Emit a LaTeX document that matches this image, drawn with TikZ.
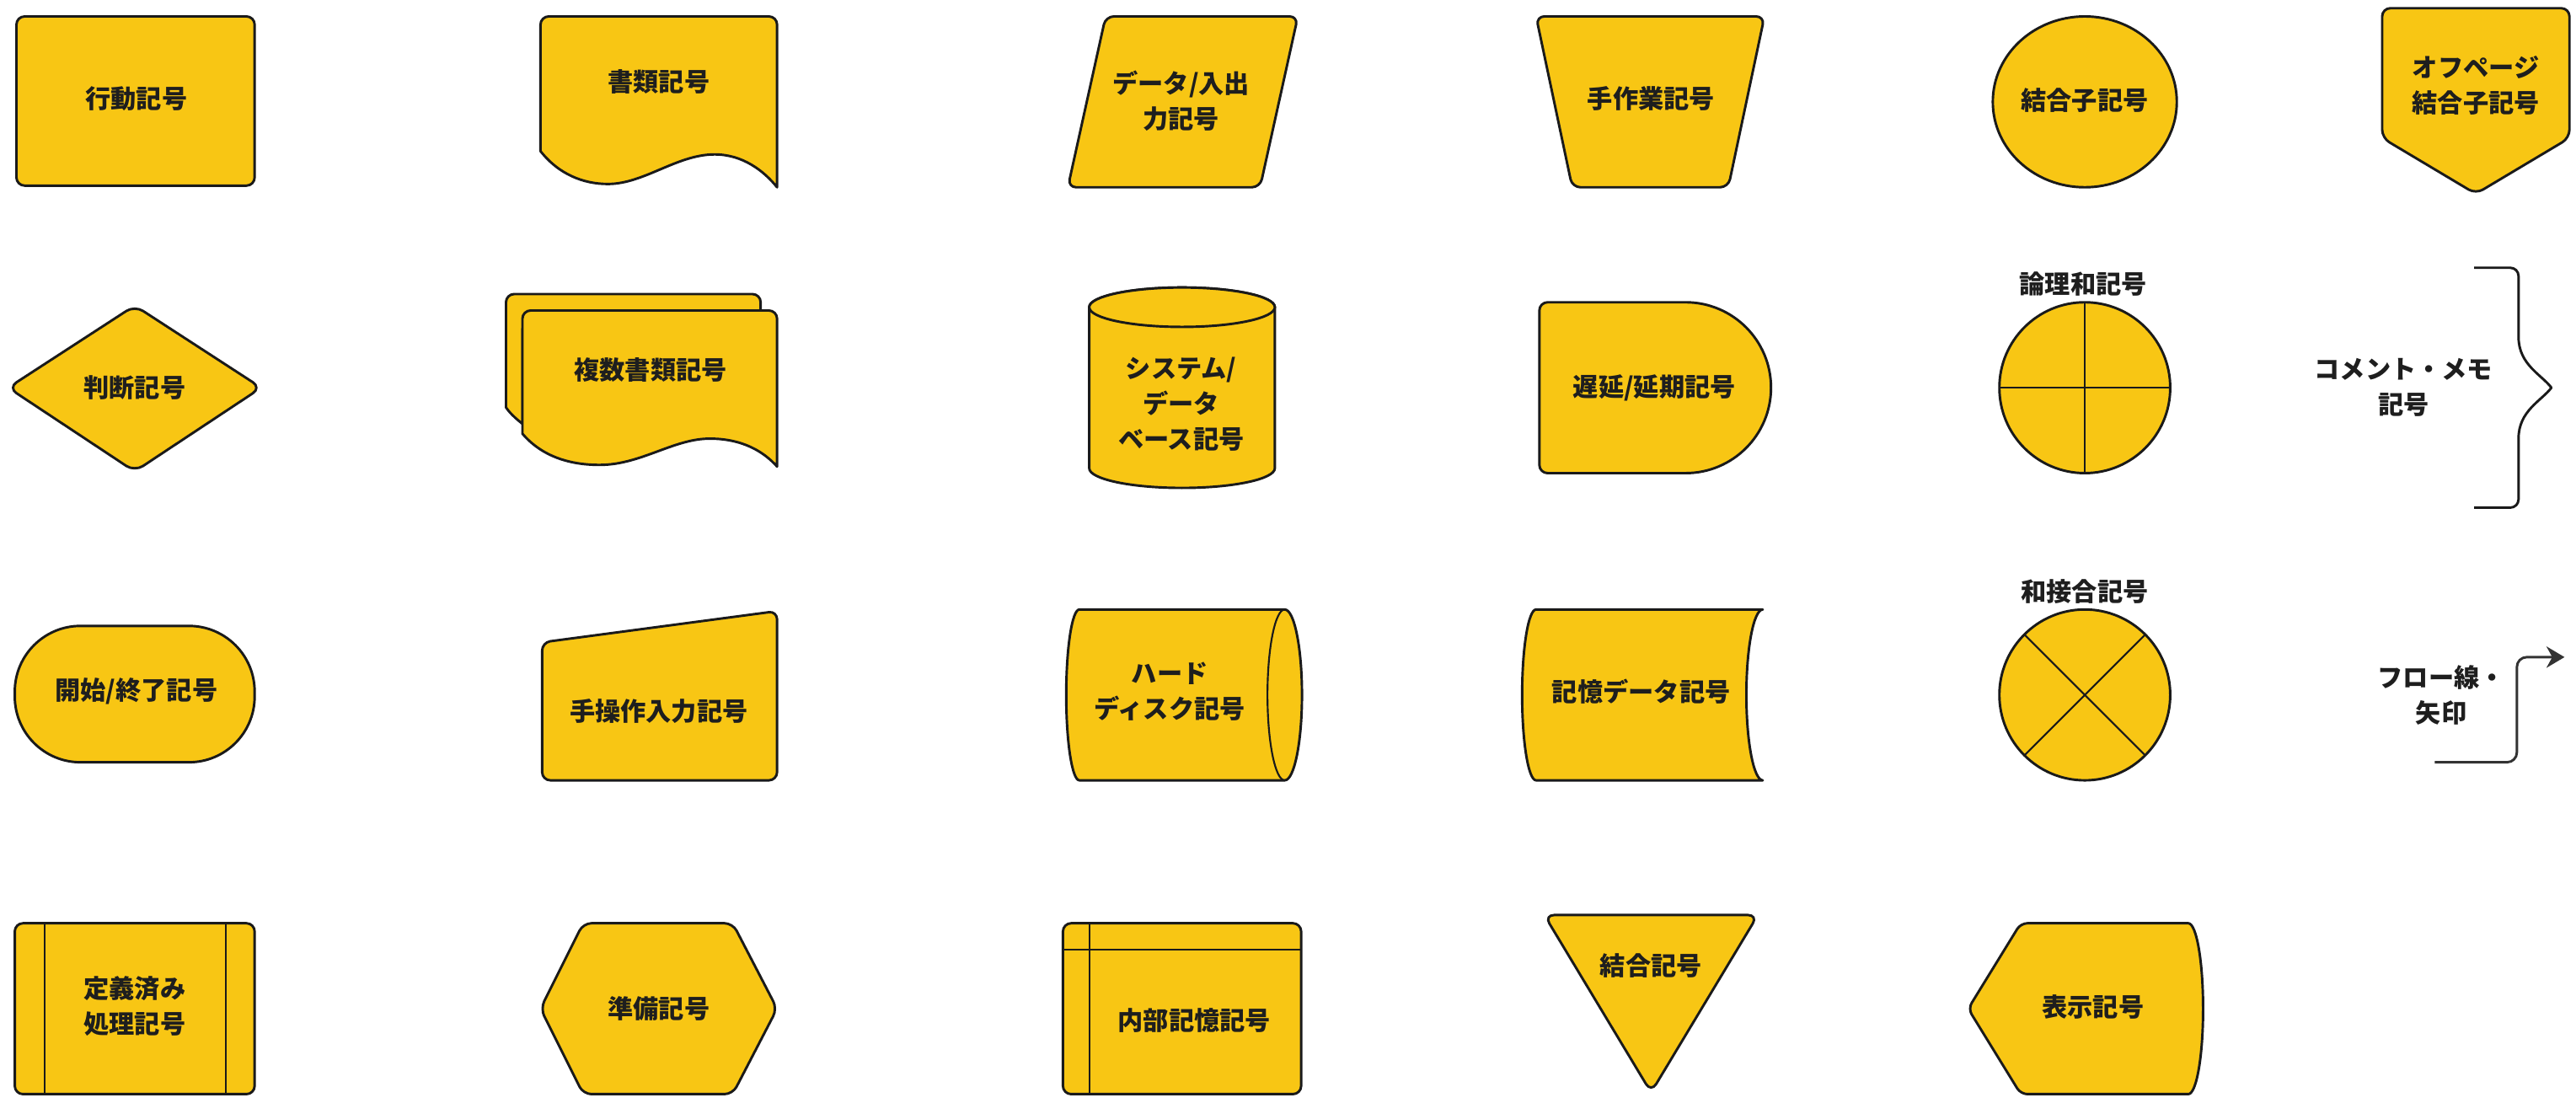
\documentclass[tikz,border=0pt]{standalone}
\usepackage{fontspec}
\IfFontExistsTF{Noto Sans CJK JP Black}
  {\newfontfamily\jpfont{Noto Sans CJK JP}[BoldFont={Noto Sans CJK JP Black}]}
  {\newfontfamily\jpfont{Noto Sans CJK JP}}
\usetikzlibrary{arrows.meta}
\definecolor{yfill}{HTML}{F8C614}
\definecolor{edge}{HTML}{1A1A1A}
\definecolor{txt}{HTML}{1E1E1E}
\definecolor{arrowc}{HTML}{333333}
\begin{document}
\begin{tikzpicture}[x=1pt,y=-1pt,
  shp/.style={fill=yfill, draw=edge, line width=1.5pt, line join=round},
  innerline/.style={draw=edge, line width=1.1pt},
  lbl/.style={font={\jpfont\bfseries\fontsize{15.5pt}{21.5pt}\selectfont}, text=txt, align=center, inner sep=0pt},
  plain/.style={draw=edge, line width=1.5pt, line join=round},
  flow/.style={draw=arrowc, line width=1.5pt, rounded corners=6pt, -{Stealth[length=11pt,width=13pt]}}]
\useasboundingbox (0,0) rectangle (1568,671);
\fill[white] (0,0) rectangle (1568,671);

% ---------- Row 1 ----------
\draw[shp, rounded corners=5pt] (10,10) rectangle (155,113);
\node[lbl] (t1) at (83,60) {行動記号};

\draw[shp] (329,92) -- (329,15) arc[start angle=180,end angle=270,radius=5] -- (468,10) arc[start angle=270,end angle=360,radius=5] -- (473,114) .. controls (465,104) and (452,94) .. (435,94) .. controls (412,94) and (392,112) .. (370,112) .. controls (355,112) and (340,106) .. (329,92) -- cycle;
\node[lbl] (t2) at (401,50) {書類記号};

\draw[shp, rounded corners=5pt] (673,10) -- (790,10) -- (767,114) -- (650,114) -- cycle;
\node[lbl] (t3) at (719,61.5) {データ/入出\\力記号};

\draw[shp, rounded corners=5pt] (935,10) -- (1074,10) -- (1052,114) -- (957,114) -- cycle;
\node[lbl] (t4) at (1005,60) {手作業記号};

\draw[shp] (1269,62) ellipse[x radius=56, y radius=52];
\node[lbl] (t5) at (1269,61) {結合子記号};

\draw[shp, rounded corners=5pt] (1450,5) -- (1564,5) -- (1564,84) -- (1507,118) -- (1450,84) -- cycle;
\node[lbl] (t6) at (1507,52) {オフページ\\結合子記号};

% ---------- Row 2 ----------
\draw[shp, rounded corners=6pt] (82,186) -- (159,236) -- (82,287) -- (5,236) -- cycle;
\node[lbl] (t7) at (82,236) {判断記号};

\draw[shp] (318,258) .. controls (313,254) and (310,251) .. (308,248) -- (308,184) arc[start angle=180,end angle=270,radius=5] -- (458,179) arc[start angle=270,end angle=360,radius=5] -- (463,200) -- (318,200) -- cycle;
\draw[shp] (318,264) -- (318,194) arc[start angle=180,end angle=270,radius=5] -- (468,189) arc[start angle=270,end angle=360,radius=5] -- (473,284) .. controls (465,275) and (452,267) .. (432,267) .. controls (410,267) and (390,283) .. (365,283) .. controls (347,283) and (330,278) .. (318,264) -- cycle;
\node[lbl] (t8) at (396,225) {複数書類記号};

\draw[shp] (663,187) -- (663,285) arc[start angle=180,end angle=0,x radius=56.5,y radius=12] -- (776,187) arc[start angle=0,end angle=-180,x radius=56.5,y radius=12] -- cycle;
\draw[shp] (719.5,187) ellipse[x radius=56.5, y radius=12];
\node[lbl] (t9) at (719,246) {システム/\\データ\\ベース記号};

\draw[shp] (942,184) -- (1026,184) arc[start angle=270,end angle=450,radius=52] -- (942,288) arc[start angle=90,end angle=180,radius=5] -- (937,283) -- (937,189) arc[start angle=180,end angle=270,radius=5] -- cycle;
\node[lbl] (t10) at (1007,236) {遅延/延期記号};

\node[lbl] (t11) at (1268,173) {論理和記号};
\draw[shp] (1269,236) circle[radius=52];
\draw[innerline] (1269,184) -- (1269,288);
\draw[innerline] (1217,236) -- (1321,236);

\draw[plain] (1506,163) -- (1528,163) arc[start angle=270,end angle=360,radius=5] -- (1533,205) .. controls (1533,222) and (1547,228) .. (1553,236) .. controls (1547,244) and (1533,250) .. (1533,267) -- (1533,304) arc[start angle=0,end angle=90,radius=5] -- (1506,309);
\node[lbl] (t12) at (1463,236) {コメント・メモ\\記号};

% ---------- Row 3 ----------
\draw[shp, rounded corners=40pt] (9,381) rectangle (155,464);
\node[lbl] (t13) at (83,421) {開始/終了記号};

\draw[shp, rounded corners=5pt] (330,391) -- (473,372) -- (473,475) -- (330,475) -- cycle;
\node[lbl] (t14) at (401,433) {手操作入力記号};

\draw[shp] (657,371) -- (782,371) arc[start angle=-90,end angle=90,x radius=10.5,y radius=52] -- (657,475) arc[start angle=90,end angle=270,x radius=8,y radius=52] -- cycle;
\draw[innerline] (782,371) arc[start angle=270,end angle=90,x radius=10.5,y radius=52];
\node[lbl] (t15) at (712,421) {ハード\\ディスク記号};

\draw[shp] (935,371) -- (1073,371) arc[start angle=-90,end angle=-270,x radius=10,y radius=52] -- (935,475) arc[start angle=90,end angle=270,x radius=8.5,y radius=52] -- cycle;
\node[lbl] (t16) at (999,421) {記憶データ記号};

\node[lbl] (t17) at (1269,360) {和接合記号};
\draw[shp] (1269,423) circle[radius=52];
\draw[innerline] (1232.2,386.2) -- (1305.8,459.8);
\draw[innerline] (1305.8,386.2) -- (1232.2,459.8);

\node[lbl] (t18) at (1486,423) {フロー線・\\矢印};
\coordinate (fa) at (1482,464);
\coordinate (fb) at (1561,400);
\draw[flow] (fa) -- ([xshift=50pt]fa) |- (fb);

% ---------- Row 4 ----------
\draw[shp, rounded corners=5pt] (9,562) rectangle (155,666);
\draw[innerline] (27,562) -- (27,666);
\draw[innerline] (137.5,562) -- (137.5,666);
\node[lbl] (t19) at (82,612.5) {定義済み\\処理記号};

\draw[shp, rounded corners=5pt] (355,562) -- (446,562) -- (473,614) -- (446,666) -- (355,666) -- (329,614) -- cycle;
\node[lbl] (t20) at (401,614) {準備記号};

\draw[shp, rounded corners=5pt] (647,562) rectangle (792,666);
\draw[innerline] (647,578) -- (792,578);
\draw[innerline] (663,562) -- (663,666);
\node[lbl] (t21) at (727,621) {内部記憶記号};

\draw[shp, rounded corners=6pt] (940,557) -- (1070,557) -- (1005,665) -- cycle;
\node[lbl] (t22) at (1005,588) {結合記号};

\draw[shp] (1332,562) arc[start angle=-90,end angle=90,x radius=9,y radius=52] {[rounded corners=4pt] -- (1230,666) -- (1198,614) -- (1230,562)} -- cycle;
\node[lbl] (t23) at (1274,613) {表示記号};
\end{tikzpicture}
\end{document}
